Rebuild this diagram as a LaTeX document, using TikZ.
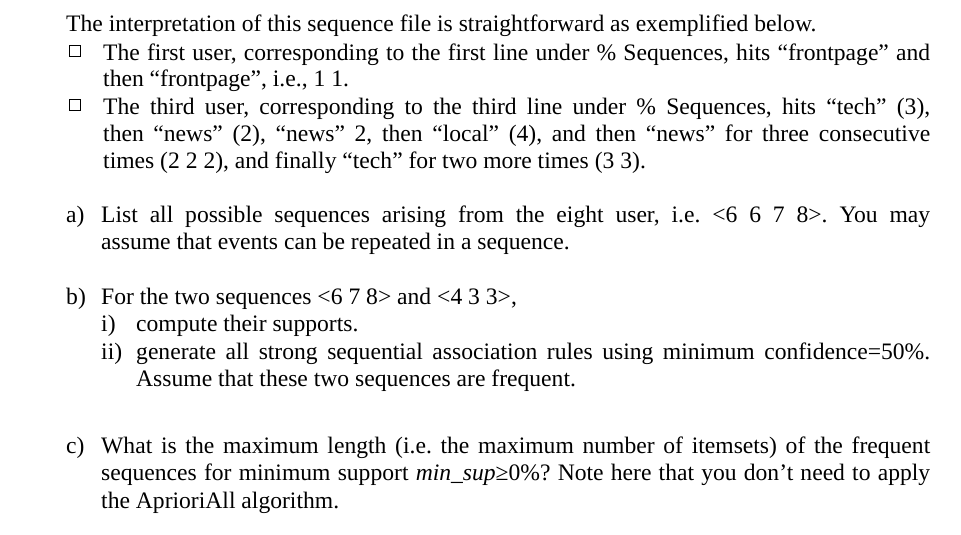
\documentclass[tikz,border=0pt]{standalone}
\usepackage{fontspec}
\setmainfont{Liberation Serif}
\begin{document}
\frenchspacing
\begin{tikzpicture}[x=1pt,y=-1pt,
  txt/.style={anchor=base west,inner sep=0pt,font=\fontsize{23.6}{27}\selectfont},
  cbox/.style={draw,line width=0.9pt,minimum size=11pt,inner sep=0pt}]
\useasboundingbox[fill=white] (0,0) rectangle (961,535);
\newcommand{\jl}[2]{\makebox[#1pt][s]{#2}}
\node[txt] (l1) at (66,32) {The interpretation of this sequence file is straightforward as exemplified below.};
\node[cbox] (c1) at (75,51) {};
\node[txt] (l2) at (103,60) {\jl{827}{The first user, corresponding to the first line under \% Sequences, hits “frontpage” and}};
\node[txt] (l3) at (103,86) {then “frontpage”, i.e., 1 1.};
\node[cbox] (c2) at (75,105) {};
\node[txt] (l4) at (103,114) {\jl{827}{The third user, corresponding to the third line under \% Sequences, hits “tech” (3),}};
\node[txt] (l5) at (103,141) {\jl{827}{then “news” (2), “news” 2, then “local” (4), and then “news” for three consecutive}};
\node[txt] (l6) at (103,168) {times (2 2 2), and finally “tech” for two more times (3 3).};
\node[txt] (a0) at (66,222) {a)};
\node[txt] (a1) at (101,222) {\jl{829}{List all possible sequences arising from the eight user, i.e. <6 6 7 8>. You may}};
\node[txt] (a2) at (101,249) {assume that events can be repeated in a sequence.};
\node[txt] (b0) at (66,304) {b)};
\node[txt] (b1) at (101,304) {For the two sequences <6 7 8> and <4 3 3>,};
\node[txt] (b2) at (101,331) {i)};
\node[txt] (b3) at (136,331) {compute their supports.};
\node[txt] (b4) at (101,359) {ii)};
\node[txt] (b5) at (136,359) {\jl{794}{generate all strong sequential association rules using minimum confidence=50\%.}};
\node[txt] (b6) at (136,386) {Assume that these two sequences are frequent.};
\node[txt] (c0) at (66,453) {c)};
\node[txt] (cc1) at (101,453) {\jl{829}{What is the maximum length (i.e. the maximum number of itemsets) of the frequent}};
\node[txt] (cc2) at (101,480) {\jl{829}{sequences for minimum support \textit{min\_sup}≥0\%? Note here that you don’t need to apply}};
\node[txt] (cc3) at (101,508) {the AprioriAll algorithm.};
\end{tikzpicture}
\end{document}
